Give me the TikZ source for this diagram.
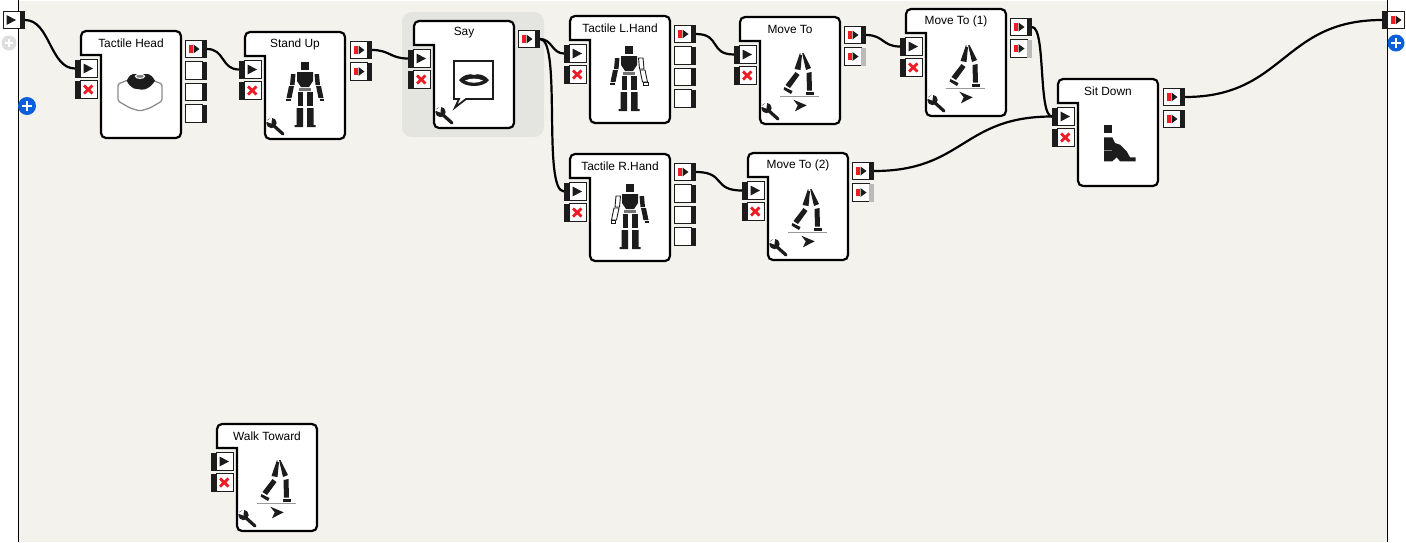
\documentclass[tikz,border=0pt]{standalone}
\usepackage{fontspec}
\setmainfont{Liberation Sans}
\definecolor{paper}{HTML}{F3F2ED}
\definecolor{halo}{HTML}{E4E4E0}
\definecolor{ink}{HTML}{1C1C1C}
\definecolor{stopred}{HTML}{EE1C25}
\definecolor{plusblue}{HTML}{0B5FDB}
\tikzset{
  x=1pt,y=-1pt,
  blockline/.style={draw=black,fill=white,line width=2.2pt},
  blocktext/.style={font=\fontsize{11.9}{13}\selectfont,text=black,inner sep=0pt},
  portbox/.style={draw=ink,fill=white,line width=.9pt,minimum width=17pt,minimum height=17.5pt,inner sep=0pt,outer sep=0pt},
  portbar/.style={fill=ink,minimum width=5pt,minimum height=18pt,inner sep=0pt,outer sep=0pt},
  palebar/.style={fill=black!27,minimum width=5pt,minimum height=18pt,inner sep=0pt,outer sep=0pt},
  plusdot/.style={circle,fill=#1,minimum size=18pt,inner sep=0pt},
  wire/.style={draw=black,line width=2.2pt},
  limb/.style={fill=ink},
  openlimb/.style={draw=ink,fill=white,line width=.9pt},
}
% port symbols, from the left middle of the white box
\newcommand{\symnone}{}
\newcommand{\symgo}{\fill[ink] (3.5,-5) -- (13,0) -- (3.5,5) -- cycle;}
\newcommand{\symstop}{\draw[stopred,line width=2.8pt] (4,-4) -- (12.5,4) (4,4) -- (12.5,-4);}
\newcommand{\symdone}{\fill[stopred] (4,-3.8) rectangle (8.2,3.8); \fill[ink] (8.7,-4.3) -- (14.5,0) -- (8.7,4.3) -- cycle;}
% bar on the left of the box
\newcommand{\portin}[4]{
  \node[portbox,anchor=west] (#1-box) at (#2,#3) {};
  \node[portbar,anchor=east] (#1) at (#2,#3) {};
  \begin{scope}[shift={(#2,#3)}] #4 \end{scope}
}
% bar on the right of the box
\newcommand{\portout}[5][portbar]{
  \node[portbox,anchor=west] (#2-box) at (#3,#4) {};
  \node[#1,anchor=west] (#2) at (#3+17,#4) {};
  \begin{scope}[shift={(#3,#4)}] #5 \end{scope}
}
\newcommand{\block}[4]{
  \begin{scope}[shift={(#2,#3)}]
    \draw[blockline] (0,24) [rounded corners=5pt] -- (0,0) -- (100,0) -- (100,107) -- (20,107) [sharp corners] -- (20,24) -- cycle;
    \node[blocktext] (#1-label) at (50,12) {#4};
    \portin{#1-in}{-1}{37.5}{\symgo}
    \portin{#1-stop}{-1}{58.5}{\symstop}
  \end{scope}
}
\newcommand{\wrench}[2]{
  \begin{scope}[shift={(#1,#2)}]
    \draw[ink,line width=3.2pt,line cap=round] (28,93) -- (38,102);
    \fill[ink] (26.5,91) circle (5.2pt);
    \fill[white] (21,89.5) -- (26.5,91.5) -- (27,85) -- cycle;
  \end{scope}
}
\newcommand{\robot}[4]{
  \begin{scope}[shift={(#1,#2)}]
    \fill[limb] (56,30) rectangle (64,38);
    \fill[limb] (52,40) -- (68,40) -- (68,49) -- (64,55) -- (56,55) -- (52,49) -- cycle;
    \fill[black!55] (54,56) rectangle (66,59);
    \fill[limb] (52.5,60) rectangle (58,74);
    \fill[limb] (62,60) rectangle (67.5,74);
    \fill[limb] (51.5,76) -- (58,76) -- (58,95) -- (49.5,95) -- (49.5,93) -- (51.5,93) -- cycle;
    \fill[limb] (68.5,76) -- (62,76) -- (62,95) -- (70.5,95) -- (70.5,93) -- (68.5,93) -- cycle;
    \path[#3] (46,42) -- (50.5,42) -- (49.5,53) -- (45,53) -- cycle;
    \path[#3] (44,54) -- (49,54) -- (46.5,66) -- (41.5,66) -- cycle;
    \path[#3] (41,66.5) rectangle (45.5,69);
    \path[#4] (74,42) -- (69.5,42) -- (70.5,53) -- (75,53) -- cycle;
    \path[#4] (76,54) -- (71,54) -- (73.5,66) -- (78.5,66) -- cycle;
    \path[#4] (79,66.5) rectangle (74.5,69);
  \end{scope}
}
\newcommand{\walker}[2]{
  \begin{scope}[shift={(#1,#2)}]
    \fill[ink] (60,36) -- (62,38) -- (60.5,53) -- (54.5,52) -- cycle;
    \fill[ink] (62,36) -- (63.5,36) -- (71,51) -- (66,53) -- cycle;
    \fill[ink] (55.5,55) -- (59.5,58) -- (50,71) -- (45.5,68) -- cycle;
    \fill[ink] (66.5,56) -- (71.5,55) -- (72,73.5) -- (67,73.5) -- cycle;
    \fill[ink] (44.5,70) -- (52.5,74) -- (51,77) -- (43.5,72.5) -- cycle;
    \fill[ink] (65.7,75) rectangle (74.3,77.7);
    \fill[white] (61.3,37) circle (1.2pt);
    \draw[black!40,line width=.9pt] (40,79.5) -- (79,79.5);
    \fill[ink] (53.3,82.7) -- (66.7,88.3) -- (55,94.3) -- (57.7,88.3) -- cycle;
  \end{scope}
}
\begin{document}
\begin{tikzpicture}
  \useasboundingbox (0,0) rectangle (1406,542);
  \fill[white] (0,0) rectangle (1406,542);
  \fill[paper] (18,1) rectangle (1387,542);
  \fill[halo,rounded corners=10pt] (402,12) rectangle (544,137);
  \draw[black,line width=1pt] (18,0) -- (18,542);
  \draw[black,line width=1pt] (1387,0) -- (1387,542);

  % side ports
  \portout{start}{3}{20}{\symgo}
  \portin{finish}{1387}{20}{\symdone}
  \node[plusdot=black!13,minimum size=15pt] (addleft) at (9,43) {};
  \draw[white,line width=2.2pt] (5,43) -- (13,43) (9,39) -- (9,47);
  \node[plusdot=plusblue] (addmid) at (27,106) {};
  \draw[white,line width=2.8pt] (22,106) -- (32,106) (27,101) -- (27,111);
  \node[plusdot=plusblue,minimum size=17pt] (addright) at (1396,43) {};
  \draw[white,line width=2.8pt] (1391,43) -- (1401,43) (1396,38) -- (1396,48);

  % blocks
  \block{head}{81}{31}{Tactile Head}
  \block{stand}{245}{32}{Stand Up}
  \block{say}{414}{21}{Say}
  \block{lhand}{570}{16}{Tactile L.Hand}
  \block{move}{740}{17}{Move To}
  \block{moveone}{906}{9}{Move To (1)}
  \block{sit}{1058}{79}{Sit Down}
  \block{rhand}{570}{154}{Tactile R.Hand}
  \block{movetwo}{748}{153}{Move To (2)}
  \block{walk}{217}{424}{Walk Toward}

  % output ports
  \portout{head-a}{185}{49}{\symdone}
  \portout{head-b}{185}{70.5}{\symnone}
  \portout{head-c}{185}{92}{\symnone}
  \portout{head-d}{185}{113.5}{\symnone}
  \portout{stand-a}{350}{50}{\symdone}
  \portout{stand-b}{350}{71.5}{\symdone}
  \portout{say-a}{518}{39}{\symdone}
  \portout{lhand-a}{674}{34}{\symdone}
  \portout{lhand-b}{674}{55.5}{\symnone}
  \portout{lhand-c}{674}{77}{\symnone}
  \portout{lhand-d}{674}{98.5}{\symnone}
  \portout{move-a}{844}{35}{\symdone}
  \portout[palebar]{move-b}{844}{56.5}{\symdone}
  \portout{moveone-a}{1010}{27}{\symdone}
  \portout[palebar]{moveone-b}{1010}{48.5}{\symdone}
  \portout{sit-a}{1163}{97}{\symdone}
  \portout{sit-b}{1163}{119}{\symdone}
  \portout{rhand-a}{674}{172}{\symdone}
  \portout{rhand-b}{674}{193.5}{\symnone}
  \portout{rhand-c}{674}{215}{\symnone}
  \portout{rhand-d}{674}{236.5}{\symnone}
  \portout{movetwo-a}{852}{171}{\symdone}
  \portout[palebar]{movetwo-b}{852}{192.5}{\symdone}

  % pictures inside the blocks
  \draw[black!45,fill=white,line width=1.3pt,rounded corners=1.5pt] (118,84) -- (128,80) -- (152,80) -- (162,84) -- (162,101) -- (150,108) -- (140,111) -- (130,108) -- (118,101) -- cycle;
  \fill[ink] (126.7,80.7) .. controls (129,76) and (131,74) .. (133,74) -- (147,74) .. controls (150,74) and (153,77) .. (155,80.7) .. controls (152,86) and (147,89.7) .. (142,89.7) -- (134,88.5) .. controls (131,87) and (128,84) .. (126.7,80.7) -- cycle;
  \draw[white,fill=black!50,line width=1pt] (140,76.3) ellipse (4.6pt and 2.1pt);
  \robot{245}{32}{limb}{limb}
  \wrench{245}{32}
  \draw[ink,fill=white,line width=1.8pt] (454,61) -- (493,61) -- (493,99) -- (466,99) -- (455,107.5) -- (459,99) -- (454,99) -- cycle;
  \fill[ink] (459,80) .. controls (463,75) and (470,73) .. (474,75) .. controls (478,73) and (485,75) .. (489,80) .. controls (484,88) and (464,88) .. (459,80) -- cycle;
  \fill[white] (465,80.5) .. controls (470,78) and (478,78) .. (483,80.5) .. controls (478,83.5) and (470,83.5) .. (465,80.5) -- cycle;
  \wrench{414}{21}
  \robot{569}{16}{limb}{openlimb}
  \robot{570}{154}{openlimb}{limb}
  \walker{740}{17}
  \wrench{740}{17}
  \walker{906}{9}
  \wrench{906}{9}
  \walker{748}{153}
  \wrench{748}{153}
  \walker{217}{424}
  \wrench{217}{424}
  \fill[ink] (1104,124.7) rectangle (1112.3,133);
  \fill[ink] (1104,137.3) -- (1112.3,137.3) -- (1115,143) -- (1120,144.7) -- (1126.7,151.3) -- (1130,157.3) -- (1135.7,157.3) -- (1135.7,161.3) -- (1120,161.3) -- (1116.7,157.3) -- (1112.3,161.3) -- (1104,161.3) -- cycle;
  \draw[black!50,line width=.5pt] (1104,150.7) -- (1111.5,150.7);

  % connections
  \draw[wire] (start.east) .. controls +(25,0) and +(-25,0) .. (head-in.west);
  \draw[wire] (head-a.east) .. controls +(18,0) and +(-18,0) .. (stand-in.west);
  \draw[wire] (stand-a.east) .. controls +(18,0) and +(-18,0) .. (say-in.west);
  \draw[wire] (say-a.east) .. controls +(12,0) and +(-12,0) .. (lhand-in.west);
  \draw[wire] (say-a.east) .. controls +(22,0) and +(-22,0) .. (rhand-in.west);
  \draw[wire] (lhand-a.east) .. controls +(25,0) and +(-25,0) .. (move-in.west);
  \draw[wire] (rhand-a.east) .. controls +(30,0) and +(-30,0) .. (movetwo-in.west);
  \draw[wire] (move-a.east) .. controls +(18,0) and +(-18,0) .. (moveone-in.west);
  \draw[wire] (moveone-a.east) .. controls +(14,0) and +(-14,0) .. (sit-in.west);
  \draw[wire] (movetwo-a.east) .. controls +(90,0) and +(-90,0) .. (sit-in.west);
  \draw[wire] (sit-a.east) .. controls +(100,0) and +(-100,0) .. (finish.west);
\end{tikzpicture}
\end{document}
